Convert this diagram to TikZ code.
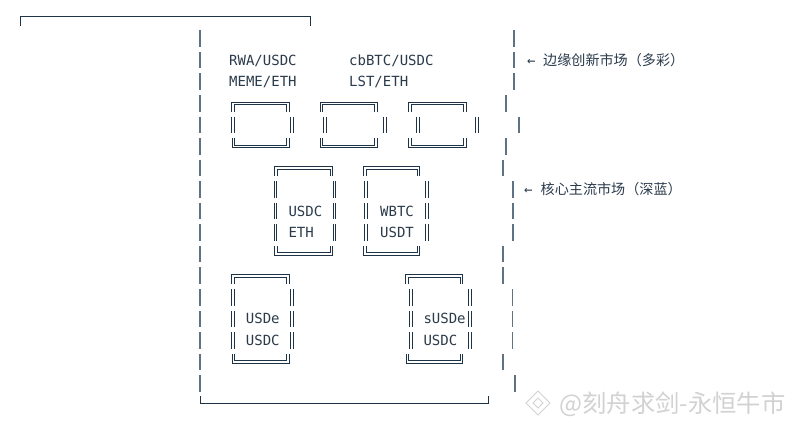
\documentclass[tikz,border=0pt]{standalone}
\usepackage{fontspec}
\setmonofont{DejaVu Sans Mono}
\newfontfamily\cjk{Noto Sans CJK SC}
\definecolor{barc}{HTML}{5F7283}
\definecolor{boxc}{HTML}{1E3345}
\definecolor{txtc}{HTML}{2B3B4B}
\definecolor{wmc}{HTML}{D2D2D2}
\newcommand\vbar[2]{\draw[bar] (#1,{ry(#2)-8.3}) -- (#1,{ry(#2)+8.3});}
\newcommand\dbar[2]{\draw[dbl] ({#1-1.3},{ry(#2)-8.3}) -- ({#1-1.3},{ry(#2)+8.3}) ({#1+1.3},{ry(#2)-8.3}) -- ({#1+1.3},{ry(#2)+8.3});}
\newcommand\dtop[3]{%
 \draw[dbl] (#1,{ry(#3)+8.3}) -- (#1,{ry(#3)-1.3}) -- (#2,{ry(#3)-1.3}) -- (#2,{ry(#3)+8.3});
 \draw[dbl] ({#1+2.6},{ry(#3)+8.3}) -- ({#1+2.6},{ry(#3)+1.3}) -- ({#2-2.6},{ry(#3)+1.3}) -- ({#2-2.6},{ry(#3)+8.3});}
\newcommand\dbot[3]{%
 \draw[dbl] (#1,{ry(#3)-8.3}) -- (#1,{ry(#3)+1.3}) -- (#2,{ry(#3)+1.3}) -- (#2,{ry(#3)-8.3});
 \draw[dbl] ({#1+2.6},{ry(#3)-8.3}) -- ({#1+2.6},{ry(#3)-1.3}) -- ({#2-2.6},{ry(#3)-1.3}) -- ({#2-2.6},{ry(#3)-8.3});}
\begin{document}
\begin{tikzpicture}[x=1pt,y=-1pt,
 declare function={ry(\r)=17+21.5625*\r;},
 bar/.style={draw=barc,line width=1.2pt},
 dbl/.style={draw=boxc,line width=0.8pt},
 frame/.style={draw=boxc,line width=1pt},
 mono/.style={font=\ttfamily\fontsize{14}{14}\selectfont, text=txtc, inner sep=0pt, anchor=base west},
 cjkt/.style={font=\cjk\fontsize{14.1}{15}\selectfont, text=txtc, inner sep=0pt, anchor=base west}]
\useasboundingbox (0,0) rectangle (792,430);
\fill[white] (0,0) rectangle (792,430);
% top border
\draw[frame] (20,26) -- (20,17) -- (310,17) -- (310,26);
% bottom border
\draw[frame] (200,396) -- (200,403) -- (488,403) -- (488,396);
% left bars
\foreach \r in {1,...,17} {\vbar{200}{\r}}
% right bars
\foreach \x/\r in {514/1,514/2,514/3,506/4,519/5,506/6,503/7,513/8,513/9,513/10,503/11,503/12,512.7/13,512.7/14,512.7/15,503/16,515/17} {\vbar{\x}{\r}}
% edge boxes
\dtop{231.7}{289.3}{4} \dtop{320}{377.3}{4} \dtop{408.3}{466}{4}
\foreach \x in {232.7,291.7,325,385,417.7,476.7} {\dbar{\x}{5}}
\dbot{232}{289.3}{6} \dbot{320}{377.3}{6} \dbot{408.3}{466}{6}
% core boxes
\dtop{274.5}{332.5}{7} \dtop{363.3}{419.7}{7}
\foreach \r in {8,9,10} {\foreach \x in {275.5,334.5,366,427} {\dbar{\x}{\r}}}
\dbot{274.5}{332.5}{11} \dbot{363.3}{419.7}{11}
% lower boxes
\dtop{231.7}{289.3}{12} \dtop{405.7}{462.7}{12}
\foreach \r in {13,14,15} {\foreach \x in {232.7,291.7,410.7,470} {\dbar{\x}{\r}}}
\dbot{232}{289.3}{16} \dbot{406}{462.7}{16}
% texts
\node[mono] (a1) at (229,{ry(2)+5.1}) {RWA/USDC};
\node[mono] (a2) at (349,{ry(2)+5.1}) {cbBTC/USDC};
\node[mono] (a3) at (229,{ry(3)+5.1}) {MEME/ETH};
\node[mono] (a4) at (349,{ry(3)+5.1}) {LST/ETH};
\node[mono] (b1) at (288.3,{ry(9)+5.1}) {USDC};
\node[mono] (b2) at (380,{ry(9)+5.1}) {WBTC};
\node[mono] (b3) at (288.3,{ry(10)+5.1}) {ETH};
\node[mono] (b4) at (380,{ry(10)+5.1}) {USDT};
\node[mono] (c1) at (245.7,{ry(14)+5.1}) {USDe};
\node[mono] (c2) at (423.3,{ry(14)+5.1}) {sUSDe};
\node[mono] (c3) at (245.7,{ry(15)+5.1}) {USDC};
\node[mono] (c4) at (423.3,{ry(15)+5.1}) {USDC};
% side labels
\node[mono] (l1a) at (527,{ry(2)+5.1}) {←};
\node[cjkt] (l1) at (543,{ry(2)+5.2}) {边缘创新市场（多彩）};
\node[mono] (l2a) at (524,{ry(8)+5.1}) {←};
\node[cjkt] (l2) at (540.5,{ry(8)+5.2}) {核心主流市场（深蓝）};
% watermark
\draw[wmc,line width=1pt] (538,391) -- (550,403) -- (538,415) -- (526,403) -- cycle;
\draw[wmc,line width=1pt] (538,398) -- (543,403) -- (538,408) -- (533,403) -- cycle;
\node[font=\cjk\fontsize{24.3}{25}\selectfont, text=wmc, anchor=base west, inner sep=0pt] (wm) at (559.5,412.5) {@刻舟求剑-永恒牛市};
\end{tikzpicture}
\end{document}
